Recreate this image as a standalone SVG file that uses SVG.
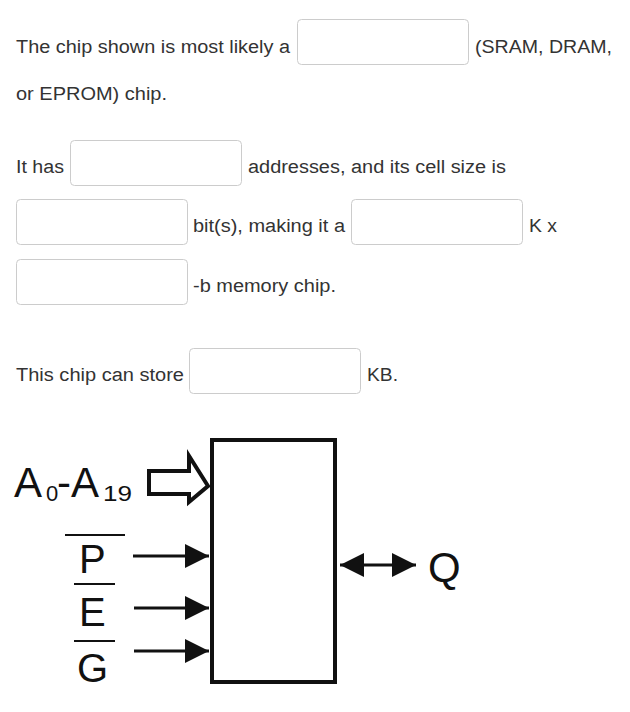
<svg xmlns="http://www.w3.org/2000/svg" width="630" height="712" viewBox="0 0 630 712">
<style>
.t{font-family:"Liberation Sans",Arial,sans-serif;font-size:18px;fill:#333}
.in{fill:#fff;stroke:#ccc;stroke-width:1}
.d{font-family:"Liberation Sans",Arial,sans-serif;fill:#111}
</style>
<defs>
<marker id="ah2" viewBox="0 0 10 10" refX="10" refY="5" markerWidth="8" markerHeight="8" orient="auto-start-reverse">
<path d="M0,0 L10,5 L0,10 Z" fill="#111"/>
</marker>
</defs>
<rect width="630" height="712" fill="#fff"/>
<g id="text">
<text class="t" x="16" y="53" textLength="274" lengthAdjust="spacingAndGlyphs">The chip shown is most likely a</text>
<rect class="in" x="297.5" y="19.5" width="171" height="45" rx="4"/>
<text class="t" x="475" y="53" textLength="137" lengthAdjust="spacingAndGlyphs">(SRAM, DRAM,</text>
<text class="t" x="16" y="100" textLength="151" lengthAdjust="spacingAndGlyphs">or EPROM) chip.</text>
<text class="t" x="16" y="173" textLength="48" lengthAdjust="spacingAndGlyphs">It has</text>
<rect class="in" x="70.5" y="140.5" width="171" height="45" rx="4"/>
<text class="t" x="248" y="173" textLength="258" lengthAdjust="spacingAndGlyphs">addresses, and its cell size is</text>
<rect class="in" x="16.5" y="199.5" width="171" height="45" rx="4"/>
<text class="t" x="193" y="232" textLength="152" lengthAdjust="spacingAndGlyphs">bit(s), making it a</text>
<rect class="in" x="351.5" y="199.5" width="171" height="45" rx="4"/>
<text class="t" x="529" y="232" textLength="28" lengthAdjust="spacingAndGlyphs">K x</text>
<rect class="in" x="16.5" y="259.5" width="171" height="45" rx="4"/>
<text class="t" x="193" y="292" textLength="143" lengthAdjust="spacingAndGlyphs">-b memory chip.</text>
<text class="t" x="16" y="381" textLength="168" lengthAdjust="spacingAndGlyphs">This chip can store</text>
<rect class="in" x="189.5" y="348.5" width="171" height="45" rx="4"/>
<text class="t" x="367" y="381" textLength="31" lengthAdjust="spacingAndGlyphs">KB.</text>
</g>
<g id="chip">
<rect x="212" y="440" width="123" height="242" fill="#fff" stroke="#111" stroke-width="4"/>
</g>
<g id="labels">
<text class="d" x="14" y="497" font-size="42">A</text>
<text class="d" x="46" y="501" font-size="22">0</text>
<text class="d" x="57" y="497" font-size="42">-A</text>
<text class="d" x="103" y="501" font-size="22" textLength="29" lengthAdjust="spacingAndGlyphs">19</text>
<text class="d" x="79" y="573" font-size="40">P</text>
<line x1="65" y1="535" x2="125" y2="535" stroke="#111" stroke-width="2"/>
<text class="d" x="79" y="626" font-size="40">E</text>
<line x1="74" y1="584" x2="115" y2="584" stroke="#111" stroke-width="2"/>
<text class="d" x="77" y="682" font-size="40">G</text>
<line x1="74" y1="641" x2="115" y2="641" stroke="#111" stroke-width="2"/>
<text class="d" x="428" y="582" font-size="42">Q</text>
</g>
<g id="connectors">
<path d="M149,471 L189,471 L189,456 L208,486 L189,502 L189,494 L149,494 Z" fill="#fff" stroke="#111" stroke-width="4" stroke-linejoin="miter"/>
<line x1="133" y1="556" x2="209" y2="556" stroke="#111" stroke-width="3" marker-end="url(#ah2)"/>
<line x1="134" y1="608" x2="209" y2="608" stroke="#111" stroke-width="3" marker-end="url(#ah2)"/>
<line x1="134" y1="651" x2="209" y2="651" stroke="#111" stroke-width="3" marker-end="url(#ah2)"/>
<line x1="340" y1="565" x2="416" y2="565" stroke="#111" stroke-width="3" marker-start="url(#ah2)" marker-end="url(#ah2)"/>
</g>
</svg>
